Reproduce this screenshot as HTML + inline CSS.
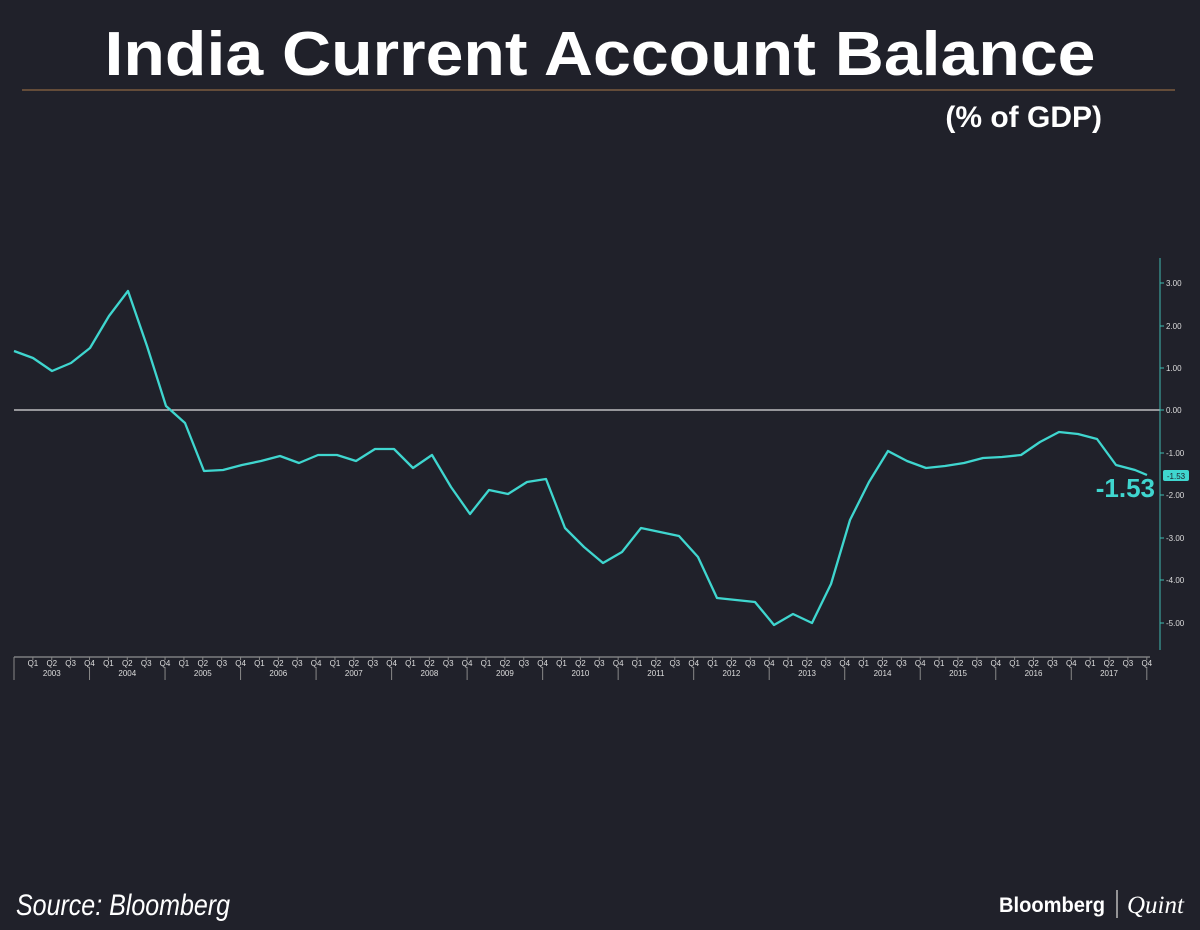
<!DOCTYPE html>
<html><head><meta charset="utf-8"><style>
html,body{margin:0;padding:0;background:#20212a;}
svg{display:block}
</style></head><body>
<svg width="1200" height="930" viewBox="0 0 1200 930" xmlns="http://www.w3.org/2000/svg" font-family="Liberation Sans, sans-serif">
<rect width="1200" height="930" fill="#20212a"/>
<text x="600" y="75" text-anchor="middle" font-size="62" font-weight="bold" fill="#fff" textLength="991" lengthAdjust="spacingAndGlyphs">India Current Account Balance</text>
<line x1="22" y1="90" x2="1175" y2="90" stroke="#7a5a3e" stroke-width="1.5"/>
<text x="1102" y="127" text-anchor="end" font-size="30" font-weight="bold" fill="#fff">(% of GDP)</text>
<line x1="14" y1="410" x2="1160" y2="410" stroke="#ddd" stroke-width="1.3"/>
<line x1="1160" y1="258" x2="1160" y2="650" stroke="#3fb9b0" stroke-width="1"/>
<g stroke="#3fb9b0" stroke-width="1">
<line x1="1160" y1="283" x2="1164" y2="283"/><line x1="1160" y1="326" x2="1164" y2="326"/><line x1="1160" y1="368" x2="1164" y2="368"/><line x1="1160" y1="410" x2="1164" y2="410"/><line x1="1160" y1="453" x2="1164" y2="453"/><line x1="1160" y1="495" x2="1164" y2="495"/><line x1="1160" y1="538" x2="1164" y2="538"/><line x1="1160" y1="580" x2="1164" y2="580"/><line x1="1160" y1="623" x2="1164" y2="623"/>
</g>
<g font-size="8" fill="#ddd">
<text x="1166" y="286">3.00</text><text x="1166" y="329">2.00</text><text x="1166" y="371">1.00</text><text x="1166" y="413">0.00</text><text x="1166" y="456">-1.00</text><text x="1166" y="498">-2.00</text><text x="1166" y="541">-3.00</text><text x="1166" y="583">-4.00</text><text x="1166" y="626">-5.00</text>
</g>
<rect x="1163" y="470" width="26" height="11" rx="2" fill="#3fd6cf"/>
<text x="1176" y="479" text-anchor="middle" font-size="8" fill="#20212a">-1.53</text>
<text x="1155" y="497" text-anchor="end" font-size="26" font-weight="bold" fill="#3fd6cf">-1.53</text>
<polyline fill="none" stroke="#3fd6cf" stroke-width="2.3" stroke-linejoin="round" points="14,351 33,358 52,371 71,363 90,348 109,316 128,291 147,346 166,406 185,423 204,471 223,470 242,465 261,461 280,456 299,463 318,455 337,455 356,461 375,449 394,449 413,468 432,455 451,487 470,514 489,490 508,494 527,482 546,479 565,528 584,547 603,563 622,552 641,528 660,532 679,536 698,557 717,598 736,600 755,602 774,625 793,614 812,623 831,584 850,520 869,482 888,451 907,461 926,468 945,466 964,463 983,458 1002,457 1021,455 1040,442 1059,432 1078,434 1097,439 1116,465 1135,470 1147,475"/>
<line x1="14" y1="657" x2="1150" y2="657" stroke="#aaa" stroke-width="1"/>
<g id="xa" stroke="#888" stroke-width="1"></g>
<g id="xl" font-size="8" fill="#ddd" text-anchor="middle"></g>
<text x="16" y="915" font-size="30" font-style="italic" fill="#fff" textLength="214" lengthAdjust="spacingAndGlyphs" font-family="Liberation Sans Narrow, Liberation Sans, sans-serif">Source: Bloomberg</text>
<text x="999" y="912" font-size="21" font-weight="bold" fill="#fff" textLength="106" lengthAdjust="spacingAndGlyphs">Bloomberg</text>
<line x1="1117" y1="890" x2="1117" y2="918" stroke="#bbb" stroke-width="1.5"/>
<text x="1127" y="913" font-size="25" font-style="italic" fill="#fff" font-family="Liberation Serif, serif">Quint</text>
<script>
(function(){
var ns="http://www.w3.org/2000/svg",xa=document.getElementById('xa'),xl=document.getElementById('xl');
var st=18.88;
function L(x1,y1,x2,y2){var l=document.createElementNS(ns,'line');l.setAttribute('x1',x1);l.setAttribute('y1',y1);l.setAttribute('x2',x2);l.setAttribute('y2',y2);xa.appendChild(l);}
function T(x,y,s){var t=document.createElementNS(ns,'text');t.setAttribute('x',x);t.setAttribute('y',y);t.textContent=s;xl.appendChild(t);}
L(14,657,14,680);
for(var y=0;y<15;y++){
 for(var q=1;q<=4;q++){
  var x=14+(y*4+q)*st;
  T(x.toFixed(1),666,'Q'+q);
  L(x,657,x,660);
 }
 var xe=14+(y*4+4)*st;
 L(xe,667,xe,680);
 T((14+(y*4+2)*st).toFixed(1),676,String(2003+y));
}
})();
</script>
</svg>
</body></html>
